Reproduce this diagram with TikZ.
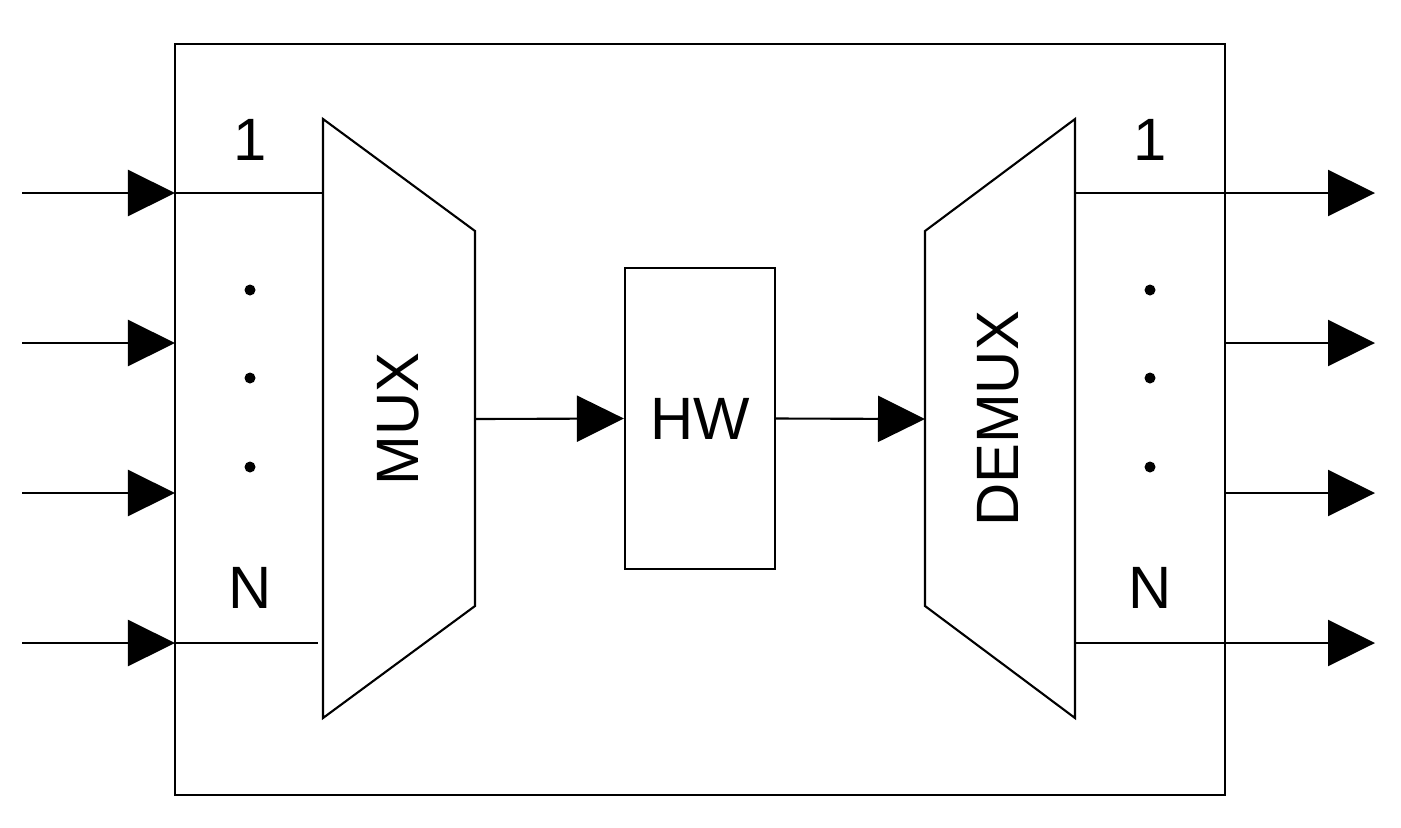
\documentclass[tikz,border=0pt]{standalone}
\usepackage{fontspec}
\setmainfont{Liberation Sans}
\usetikzlibrary{arrows.meta}
\begin{document}
\begin{tikzpicture}[x=0.01cm,y=-0.01cm,line width=0.6pt,
 arr/.style={-{Triangle[length=4.7mm,width=4.6mm]}},
 lbl/.style={font=\fontsize{17}{20}\selectfont,inner sep=0},
 dot/.style={circle,fill,inner sep=0,minimum size=1.1mm}]
\useasboundingbox (0,0) rectangle (1401,827);
\draw (175,44) rectangle (1225,795);
\draw (323,119) -- (475,231) -- (475,606) -- (323,718) -- cycle;
\draw (925,231) -- (1075,119) -- (1075,718) -- (925,606) -- cycle;
\node[draw,minimum width=1.5cm,minimum height=3.01cm,inner sep=0,lbl] (hw) at (700,418.5) {HW};
\node[lbl,rotate=90] (mux) at (398,419) {MUX};
\node[lbl,rotate=90] (demux) at (998,419) {DEMUX};
\coordinate (muxo) at (475,419);
\coordinate (demi) at (925,419);
\draw[arr] (muxo) -- (hw.west);
\draw[arr] (hw.east) -- (demi);
% inputs
\foreach \y/\n in {193/a,343/b,493/c,643/d}{
 \coordinate (in\n) at (22,\y);
 \coordinate (bx\n) at (175,\y);
 \draw[arr] (in\n) -- (bx\n);
 \coordinate (out\n) at (1375,\y);
}
\coordinate (ma) at (323,193);
\coordinate (md) at (318,643);
\draw (bxa) -- (ma);
\draw (bxd) -- (md);
\coordinate (da) at (1075,193);
\coordinate (dd) at (1075,643);
\coordinate (rb) at (1225,343);
\coordinate (rc) at (1225,493);
\draw[arr] (da) -- (outa);
\draw[arr] (rb) -- (outb);
\draw[arr] (rc) -- (outc);
\draw[arr] (dd) -- (outd);
\foreach \x/\s in {250/l,1150/r}{
 \node[lbl] (one\s) at (\x,140) {1};
 \node[lbl] (n\s) at (\x,588) {N};
 \node[dot] (d1\s) at (\x,290) {};
 \node[dot] (d2\s) at (\x,378) {};
 \node[dot] (d3\s) at (\x,467) {};
}
\end{tikzpicture}
\end{document}
